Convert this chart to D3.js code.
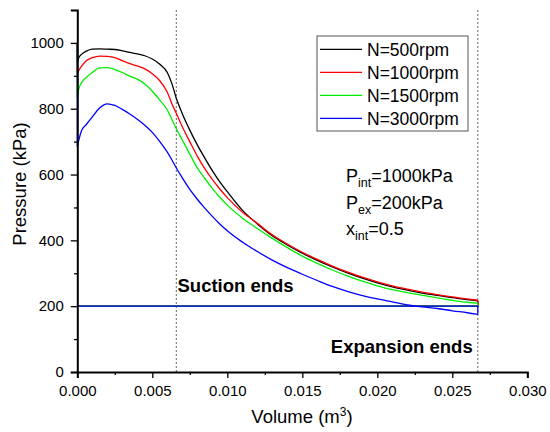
<!DOCTYPE html>
<html>
<head>
<meta charset="utf-8">
<script src="https://cdn.jsdelivr.net/npm/d3@7"></script>
<style>
  body { margin: 0; background: #fff; }
  svg { font-family: "Liberation Sans", Arial, sans-serif; }
</style>
</head>
<body>
<svg width="550" height="432"></svg>
<script>
"use strict"

// volume grid (m3), shared by all series
const volume = [0, 0.0001, 0.0003, 0.0006, 0.001, 0.0015, 0.002, 0.0025, 0.003, 0.0035,
    0.004, 0.0045, 0.005, 0.0055, 0.006, 0.0063, 0.0066, 0.007, 0.0075, 0.008,
    0.0085, 0.009, 0.0095, 0.010, 0.011, 0.012, 0.013, 0.014, 0.015, 0.016,
    0.017, 0.018, 0.019, 0.020, 0.021, 0.022, 0.023, 0.024, 0.025, 0.026, 0.0267]

// pressure (kPa) for each speed
const p500 = [940, 955, 966, 975, 981, 982, 981, 980, 976, 971,
    967, 961, 951, 935, 910, 877, 832, 785, 735, 690,
    650, 612, 578, 548, 492, 450, 414, 386, 361, 339,
    319, 301, 285, 271, 259, 249, 240, 233, 226, 220, 216]
const p1000 = [905, 916, 930, 946, 955, 960, 959, 955, 946, 937,
    930, 921, 906, 885, 850, 816, 786, 745, 700, 656,
    618, 585, 556, 530, 486, 452, 417, 389, 364, 342,
    322, 304, 288, 274, 262, 252, 243, 235, 228, 222, 218]
const p1500 = [835, 860, 880, 895, 910, 924, 925, 919, 910, 899,
    890, 875, 853, 826, 796, 768, 739, 705, 662, 620,
    588, 558, 531, 507, 468, 436, 406, 378, 352, 330,
    310, 292, 276, 262, 250, 241, 233, 225, 218, 212, 209]
const p3000 = [685, 705, 735, 752, 775, 803, 815, 810, 798, 784,
    768, 750, 728, 700, 668, 645, 620, 590, 555, 525,
    498, 473, 450, 429, 395, 366, 340, 317, 297, 278,
    260, 245, 232, 222, 213, 204, 198, 193, 186, 180, 175]

const seriesNames = ["N=500rpm", "N=1000rpm", "N=1500rpm", "N=3000rpm"]
const seriesValues = [p500, p1000, p1500, p3000]
const seriesColors = ["#000000", "#ff0000", "#00ee00", "#0000ff"]

const pInt = 1000   // intake pressure
const pEx = 200     // exhaust pressure
const markers = [0.0066, 0.0267]   // suction ends, expansion ends

const xTicks = [0, 0.005, 0.010, 0.015, 0.020, 0.025, 0.030]
const yTicks = [0, 200, 400, 600, 800, 1000]

let svg = d3.select("svg")
const area = { left: 77.3, right: 527.3, top: 10, bottom: 372 }

const scX = d3.scaleLinear().domain([0, 0.030]).range([area.left, area.right])
const scY = d3.scaleLinear().domain([0, 1100]).range([area.bottom, area.top])

// dashed vertical lines
svg.selectAll(".marker")
    .data(markers)
    .enter()
    .append("line")
    .attr("x1", d => scX(d)).attr("x2", d => scX(d))
    .attr("y1", scY(1100)).attr("y2", scY(0))
    .style("stroke", "#666")
    .style("stroke-width", 1)
    .style("stroke-dasharray", "2,2")

// cycles: intake jump, curve, drop to Pex, back along Pex
const curveF = d3.line().x(d => scX(d[0])).y(d => scY(d[1])).curve(d3.curveMonotoneX)
const lineF = d3.line().x(d => scX(d[0])).y(d => scY(d[1]))
const vEnd = volume[volume.length - 1]
seriesValues.forEach((vals, i) => {
    let g = svg.append("g")
        .style("fill", "none")
        .style("stroke", seriesColors[i])
        .style("stroke-width", 1.3)
    g.append("path")
        .datum(volume.map((v, j) => [v, vals[j]]))
        .attr("d", curveF)
    g.append("path")
        .datum([[0, pInt], [0, vals[0]]])
        .attr("d", lineF)
    g.append("path")
        .datum([[vEnd, vals[vals.length - 1]], [vEnd, pEx], [0, pEx]])
        .attr("d", lineF)
})

// axes
const axisX = d3.axisBottom(scX).tickValues(xTicks).tickFormat(d3.format(".3f"))
    .tickSize(6).tickPadding(7)
svg.append("g")
    .attr("transform", `translate(0, ${area.bottom})`)
    .call(axisX)
const axisXMinor = d3.axisBottom(scX).tickValues(d3.range(0.0025, 0.030, 0.005))
    .tickSize(3).tickFormat("")
svg.append("g")
    .attr("transform", `translate(0, ${area.bottom})`)
    .call(axisXMinor)
    .select(".domain").remove()

const axisY = d3.axisLeft(scY).tickValues(yTicks).tickFormat(d3.format("d"))
    .tickSize(6.5).tickPadding(7)
svg.append("g")
    .attr("transform", `translate(${area.left}, 0)`)
    .call(axisY)
const axisYMinor = d3.axisLeft(scY).tickValues(d3.range(100, 1100, 200))
    .tickSize(3.3).tickFormat("")
svg.append("g")
    .attr("transform", `translate(${area.left}, 0)`)
    .call(axisYMinor)
    .select(".domain").remove()

svg.selectAll(".domain").style("stroke", "#000").style("stroke-width", 2)
svg.selectAll(".tick line").style("stroke", "#000").style("stroke-width", 1.3)
svg.selectAll(".tick text").style("font-size", "15px").style("fill", "#000")
    .style("font-family", "'Liberation Sans', Arial, sans-serif")

// axis titles
svg.append("text")
    .attr("transform", "translate(26, 184) rotate(-90)")
    .attr("text-anchor", "middle")
    .style("font-size", "18.5px")
    .text("Pressure (kPa)")

const xt = svg.append("text")
    .attr("x", 302).attr("y", 423)
    .attr("text-anchor", "middle")
    .style("font-size", "18.5px")
xt.append("tspan").text("Volume (m")
xt.append("tspan").attr("dy", -7).style("font-size", "12px").text("3")
xt.append("tspan").attr("dy", 7).text(")")

// annotations
svg.append("text")
    .attr("x", scX(0.00668)).attr("y", 292)
    .style("font-size", "18.5px").style("font-weight", "bold")
    .text("Suction ends")
svg.append("text")
    .attr("x", scX(0.02636)).attr("y", 353)
    .attr("text-anchor", "end")
    .style("font-size", "18.5px").style("font-weight", "bold")
    .text("Expansion ends")

const condLabels = [["P", "int", "=1000kPa"], ["P", "ex", "=200kPa"], ["x", "int", "=0.5"]]
const condY = [182, 209, 235]
condLabels.forEach((c, i) => {
    let t = svg.append("text")
        .attr("x", 346).attr("y", condY[i])
        .style("font-size", "18px")
    t.append("tspan").text(c[0])
    t.append("tspan").attr("dy", 5).style("font-size", "12.5px").text(c[1])
    t.append("tspan").attr("dy", -5).text(c[2])
})

// legend
const legend = svg.append("g").attr("transform", "translate(317, 36)")
legend.append("rect")
    .attr("width", 151).attr("height", 95)
    .style("fill", "#fff").style("stroke", "#555").style("stroke-width", 1)
const item = legend.selectAll(".legend-item")
    .data(seriesNames)
    .enter()
    .append("g")
    .attr("transform", (d, i) => `translate(0, ${13.3 + i * 23})`)
item.append("line")
    .attr("x1", 3).attr("x2", 45)
    .style("stroke", (d, i) => seriesColors[i])
    .style("stroke-width", 1.3)
item.append("text")
    .attr("x", 50).attr("dy", "0.36em")
    .style("font-size", "17.5px")
    .text(d => d)
</script>
</body>
</html>
